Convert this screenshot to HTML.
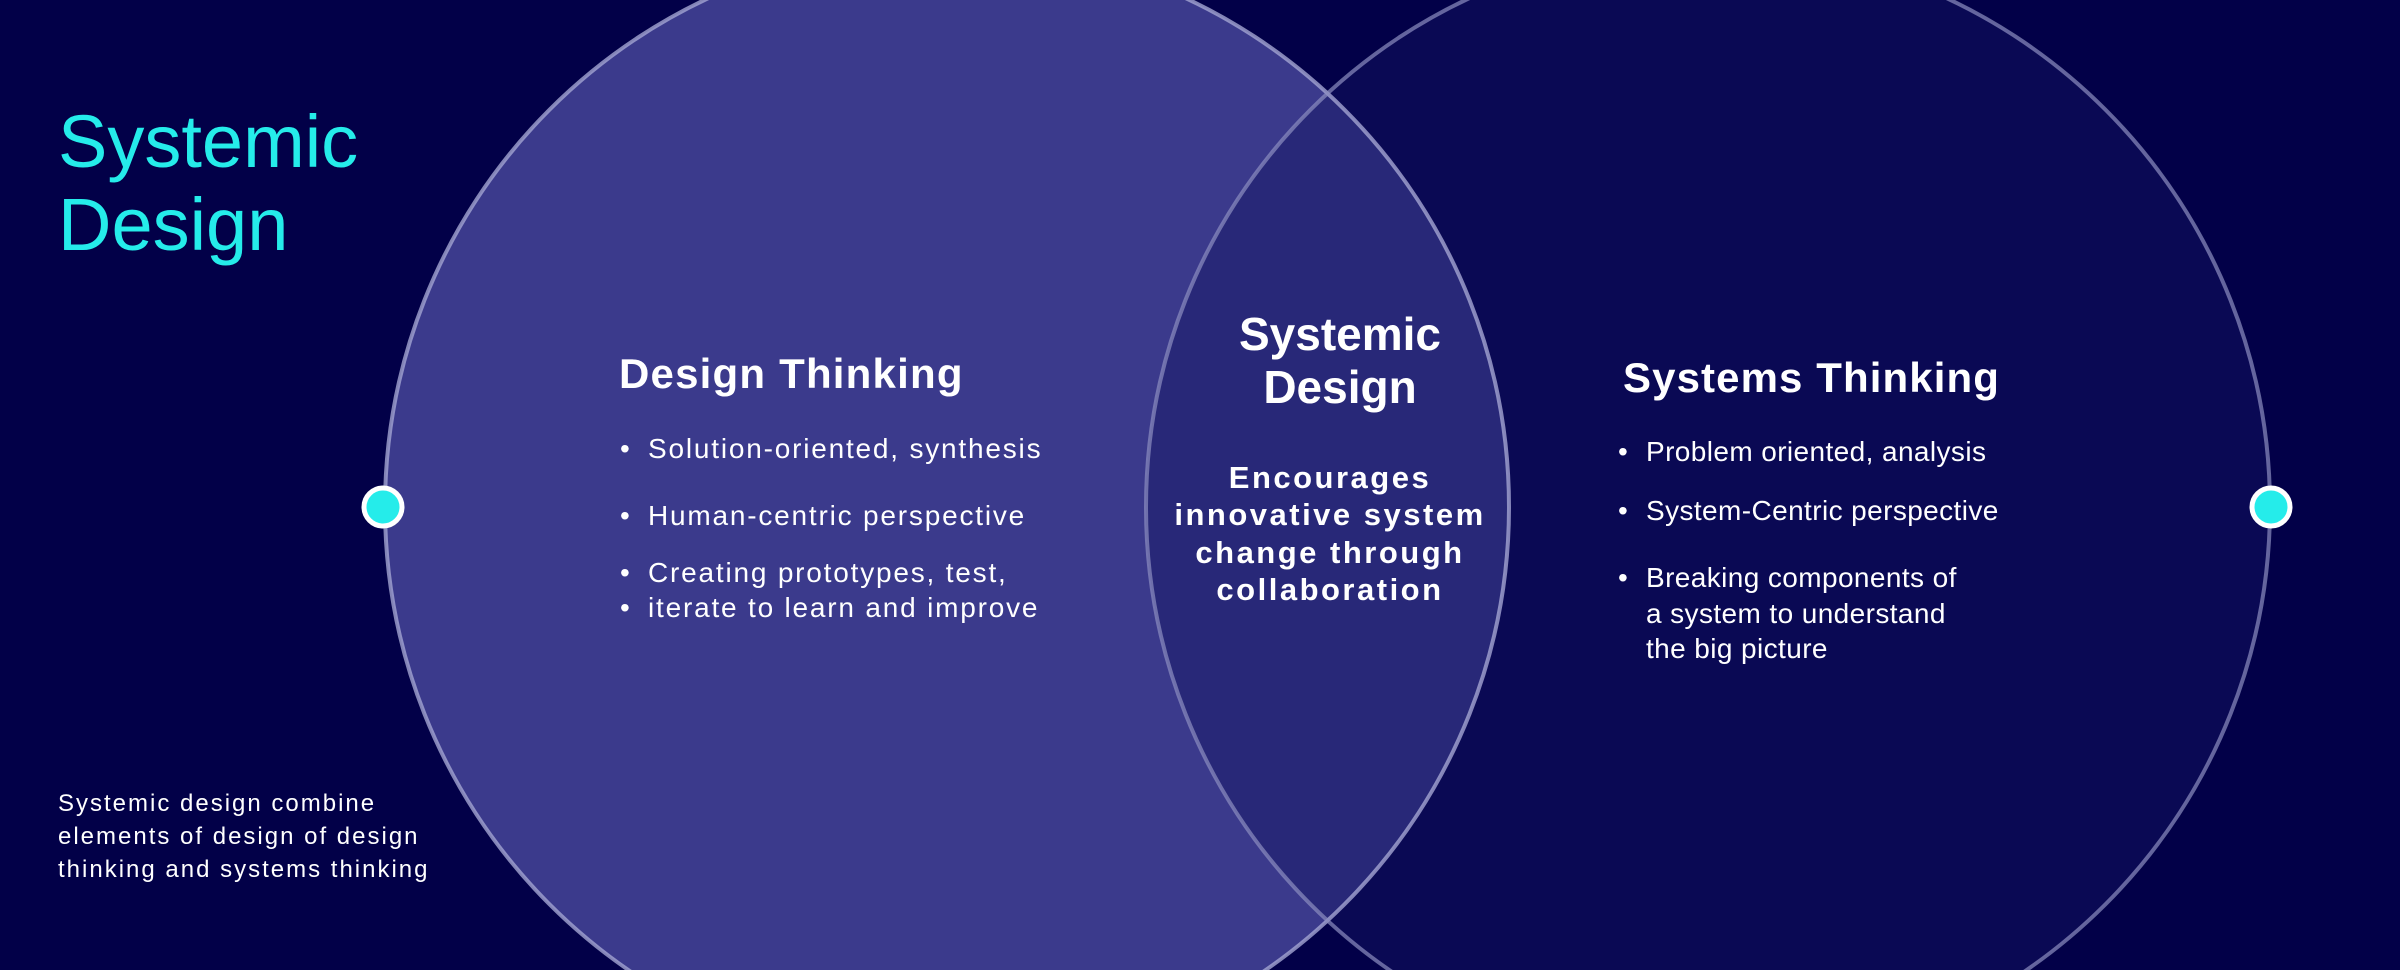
<!DOCTYPE html>
<html><head><meta charset="utf-8"><style>
html,body{margin:0;padding:0;background:#020048;width:2400px;height:970px;overflow:hidden;}
svg{display:block;}
text{font-family:"Liberation Sans",sans-serif;fill:#fff;}
</style></head><body>
<svg width="2400" height="970" viewBox="0 0 2400 970" xmlns="http://www.w3.org/2000/svg">
<defs><clipPath id="cl"><circle cx="947" cy="507" r="562"/></clipPath></defs>
<rect width="2400" height="970" fill="#020048"/>
<circle cx="947" cy="507" r="562" fill="#3b3a8c"/>
<circle cx="1708" cy="507" r="562" fill="#0a0954"/>
<circle cx="1708" cy="507" r="562" fill="#282878" clip-path="url(#cl)"/>
<circle cx="947" cy="507" r="562" fill="none" stroke="#a4a5d2" stroke-opacity="0.8" stroke-width="4"/>
<circle cx="1708" cy="507" r="562" fill="none" stroke="#8d8ec0" stroke-opacity="0.7" stroke-width="4"/>
<circle cx="383" cy="507" r="19" fill="#25ecea" stroke="#fff" stroke-width="5"/>
<circle cx="2271" cy="507" r="19" fill="#25ecea" stroke="#fff" stroke-width="5"/>

<text x="58" y="167" font-size="74" style="fill:#25ecea">Systemic</text>
<text x="58" y="250" font-size="74" style="fill:#25ecea">Design</text>

<text font-size="24" letter-spacing="2"><tspan x="58" y="811">Systemic design combine</tspan><tspan x="58" y="844">elements of design of design</tspan><tspan x="58" y="877">thinking and systems thinking</tspan></text>

<text x="619" y="388" font-size="42" font-weight="bold" letter-spacing="1.2">Design Thinking</text>
<g font-size="28" letter-spacing="1.8">
<text x="620" y="458">•</text><text x="648" y="458">Solution-oriented, synthesis</text>
<text x="620" y="525">•</text><text x="648" y="525">Human-centric perspective</text>
<text x="620" y="582">•</text><text x="648" y="582">Creating prototypes, test,</text>
<text x="620" y="617">•</text><text x="648" y="617">iterate to learn and improve</text>
</g>

<text x="1340" y="350" font-size="46" font-weight="bold" text-anchor="middle">Systemic</text>
<text x="1340" y="403" font-size="46" font-weight="bold" text-anchor="middle">Design</text>
<g font-size="31" font-weight="bold" text-anchor="middle" letter-spacing="2.5">
<text x="1330" y="488">Encourages</text>
<text x="1330" y="525">innovative system</text>
<text x="1330" y="563">change through</text>
<text x="1330" y="600">collaboration</text>
</g>

<text x="1623" y="392" font-size="42" font-weight="bold" letter-spacing="1.1">Systems Thinking</text>
<g font-size="28" letter-spacing="0.4">
<text x="1618" y="461">•</text><text x="1646" y="461">Problem oriented, analysis</text>
<text x="1618" y="520">•</text><text x="1646" y="520">System-Centric perspective</text>
<text x="1618" y="587">•</text><text x="1646" y="587">Breaking components of</text>
<text x="1646" y="623">a system to understand</text>
<text x="1646" y="658">the big picture</text>
</g>
</svg>
</body></html>
